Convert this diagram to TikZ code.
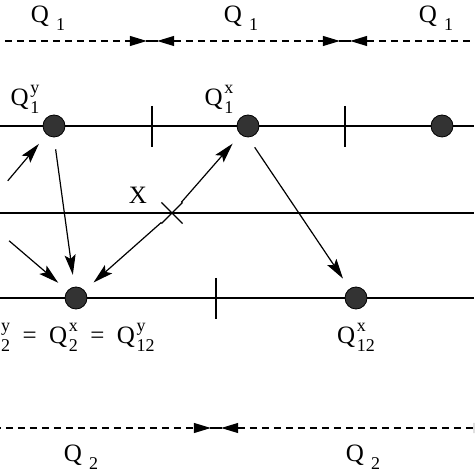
\documentclass[tikz,border=0pt]{standalone}
\usepackage{fontspec}
\setmainfont{Liberation Serif}
\usepackage{tikz}
\usetikzlibrary{arrows.meta,shapes.misc,positioning}
\tikzstyle{site} = [circle, fill=black!80, draw=black, minimum size=11pt, inner sep=0pt]
\tikzstyle{hop} = [-{Stealth[length=10pt,width=5.5pt,inset=2pt]}, line width=0.6pt,
    shorten <=6pt, shorten >=6pt]
\tikzstyle{period} = [dash pattern=on 3.5pt off 2.5pt, line width=0.6pt,
    {Triangle[length=8.5pt,width=5pt]}-{Triangle[length=8.5pt,width=5pt]},
    shorten <=2.6pt, shorten >=2.6pt]
\tikzstyle{chain} = [line width=0.9pt]
\tikzstyle{lbl} = [inner sep=0pt, font=\fontsize{12.5}{15}\selectfont]
% charge with upper and lower index
\newcommand{\qch}[2]{Q\kern0.8pt\rlap{\raisebox{0.48em}{\fontsize{9}{9}\selectfont #1}}%
    \raisebox{-0.32em}{\fontsize{9}{9}\selectfont #2}}
\newcommand{\qper}[1]{Q\kern3.5pt\raisebox{-0.3em}{\fontsize{9}{9}\selectfont #1}}

\begin{document}
\begin{tikzpicture}[x=0.5pt, y=-0.5pt]
                \useasboundingbox (0,0) rectangle (474,474);
                \clip (0,0) rectangle (474,474);
                % period markers
                \coordinate (t0) at (-41,41);
                \coordinate (t1) at (152,41);
                \coordinate (t2) at (345,41);
                \coordinate (t3) at (538,41);
                \coordinate (b0) at (-64,428);
                \coordinate (b1) at (216,428);
                \coordinate (b2) at (496,428);
                \draw[period] (t0) -- (t1);
                \draw[period] (t1) -- (t2);
                \draw[period] (t2) -- (t3);
                \draw[period] (b0) -- (b1);
                \draw[period] (b1) -- (b2);
                \draw[line width=0.6pt] ([xshift=-3pt]t1) -- ([xshift=3pt]t1);
                \draw[line width=0.6pt] ([xshift=-3pt]t2) -- ([xshift=3pt]t2);
                \draw[line width=0.6pt] ([xshift=-3pt]b1) -- ([xshift=3pt]b1);
                \node[lbl] (p1a) at (48,18) {\qper{1}};
                \node[lbl] (p1b) at (241,18) {\qper{1}};
                \node[lbl] (p1c) at (436,18) {\qper{1}};
                \node[lbl] (p2a) at (81,457) {\qper{2}};
                \node[lbl] (p2b) at (363,457) {\qper{2}};
                % chains
                \draw[chain] (0,126) -- (474,126);
                \draw[line width=0.6pt] (0,213) -- (474,213);
                \draw[chain] (0,298) -- (474,298);
                \draw[line width=0.6pt] (152,106) -- (152,147);
                \draw[line width=0.6pt] (345,106) -- (345,147);
                \draw[line width=0.6pt] (216,278) -- (216,319);
                \node[site] (qy1) at (54,126) {};
                \node[site] (qx1) at (248,126) {};
                \node[site] (q1c) at (442,126) {};
                \node[site] (q2) at (76,298) {};
                \node[site] (qx12) at (356,298) {};
                \node[draw, cross out, minimum size=10pt, inner sep=0pt, line width=0.6pt] (xc) at (172,213) {};
                \node[lbl] (xlbl) at (138,195) {X};
                \node[lbl] (lqy1) at (25,99) {\qch{y}{1}};
                \node[lbl] (lqx1) at (219,99) {\qch{x}{1}};
                \node[lbl] (lq2) at (68,337) {\qch{y}{2}\ \ =\ \ \qch{x}{2}\ \ =\ \ \qch{y}{12}};
                \node[lbl] (lqx12) at (356,337) {\qch{x}{12}};
                % hops
                \coordinate (w1) at (0,190);
                \coordinate (w2) at (0,233);
                \draw[hop] (w1) -- (qy1);
                \draw[hop] (w2) -- (q2);
                \draw[hop] (qy1.south) -- (q2);
                \draw[hop, shorten <=0pt] (xc) -- (q2);
                \draw[hop, shorten <=0pt] (xc) -- (qx1);
                \draw[hop] (qx1.south) -- (qx12);
            \end{tikzpicture}
\end{document}
